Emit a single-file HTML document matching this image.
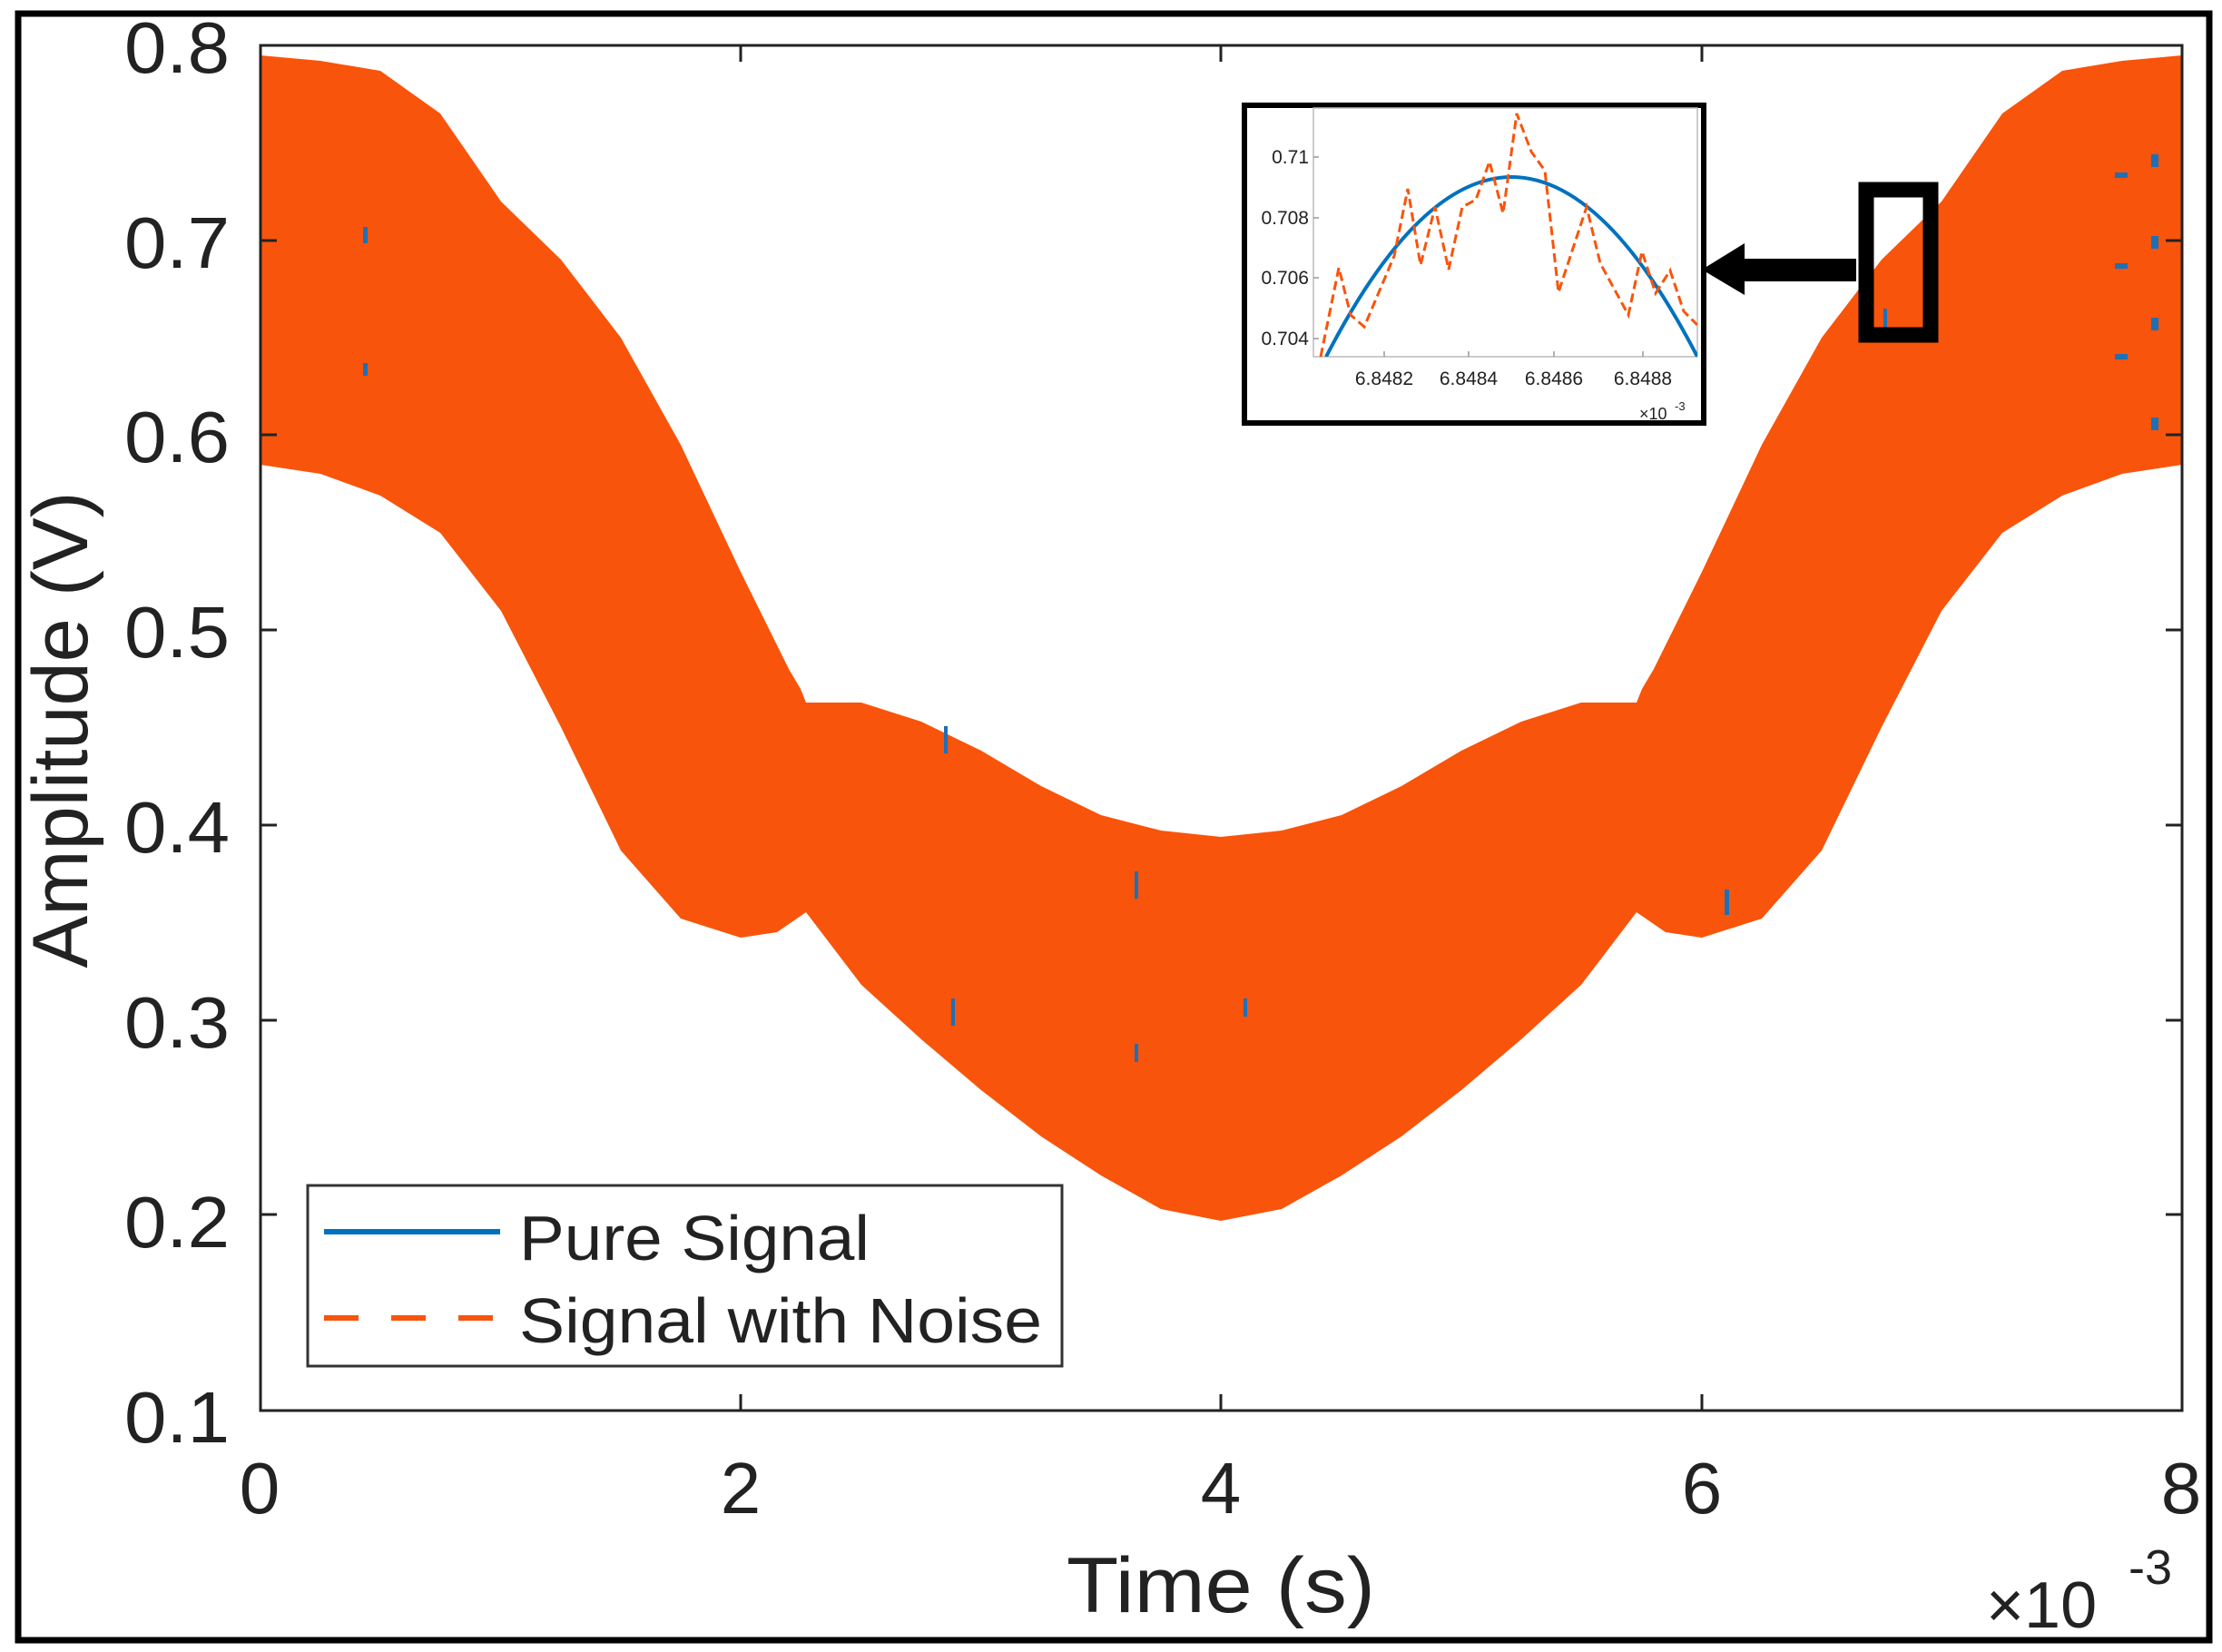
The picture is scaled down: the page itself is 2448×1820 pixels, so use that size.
<!DOCTYPE html>
<html><head><meta charset="utf-8"><style>
html,body{margin:0;padding:0;background:#fff}
svg{display:block}
text{font-family:"Liberation Sans",Arial,sans-serif;fill:#222}
</style></head><body>
<svg width="2448" height="1820" viewBox="0 0 2448 1820" xmlns="http://www.w3.org/2000/svg">
<rect x="0" y="0" width="2448" height="1820" fill="#fff"/>
<rect x="20" y="15" width="2414" height="1792" fill="none" stroke="#000" stroke-width="7"/>
<defs><clipPath id="pc"><rect x="287" y="50" width="2117" height="1504"/></clipPath>
<clipPath id="ic"><rect x="1447" y="119" width="423" height="274"/></clipPath></defs>
<!-- band -->
<g clip-path="url(#pc)">
<polygon fill="#F9540B" points="287,61 353,67 419,78 485,125 552,222 618,286 684,372 750,490 816,630 869,737 882,759 888,774 949,774 1015,795 1081,827 1147,866 1213,898 1279,915 1345,922 1412,915 1478,898 1544,866 1610,827 1676,795 1742,774 1803,774 1809,759 1822,737 1875,630 1941,490 2007,372 2073,286 2139,222 2206,125 2272,78 2338,67 2404,61 2404,512 2338,522 2272,546 2206,587 2139,673 2073,801 2007,937 1941,1012 1875,1033 1835,1027 1803,1005 1742,1085 1676,1145 1610,1201 1544,1252 1478,1295 1412,1332 1345,1345 1279,1332 1213,1295 1147,1252 1081,1201 1015,1145 949,1085 888,1005 856,1027 816,1033 750,1012 684,937 618,801 552,673 485,587 419,546 353,522 287,512"/>
<g fill="#1f6fb5">
<rect x="400" y="250" width="5" height="18"/><rect x="400" y="400" width="5" height="14"/><rect x="1250" y="960" width="4" height="30"/><rect x="1250" y="1150" width="4" height="20"/><rect x="1370" y="1100" width="4" height="20"/><rect x="1900" y="980" width="5" height="28"/><rect x="2330" y="190" width="14" height="6"/><rect x="2330" y="290" width="14" height="6"/><rect x="2330" y="390" width="14" height="6"/><rect x="2370" y="170" width="8" height="14"/><rect x="2370" y="260" width="8" height="14"/><rect x="2370" y="350" width="8" height="14"/><rect x="2370" y="460" width="8" height="14"/><rect x="2075" y="340" width="4" height="30"/><rect x="1048" y="1100" width="4" height="30"/><rect x="1040" y="800" width="4" height="30"/>
</g>
</g>
<!-- axes -->
<rect x="287" y="50" width="2117" height="1504" fill="none" stroke="#222" stroke-width="3"/>
<g stroke="#222" stroke-width="3">
<line x1="287" y1="50" x2="305" y2="50"/><line x1="287" y1="265" x2="305" y2="265"/><line x1="287" y1="479" x2="305" y2="479"/><line x1="287" y1="694" x2="305" y2="694"/><line x1="287" y1="909" x2="305" y2="909"/><line x1="287" y1="1124" x2="305" y2="1124"/><line x1="287" y1="1338" x2="305" y2="1338"/>
<line x1="2404" y1="265" x2="2386" y2="265"/><line x1="2404" y1="479" x2="2386" y2="479"/><line x1="2404" y1="694" x2="2386" y2="694"/><line x1="2404" y1="909" x2="2386" y2="909"/><line x1="2404" y1="1124" x2="2386" y2="1124"/><line x1="2404" y1="1338" x2="2386" y2="1338"/>
<line x1="816" y1="1554" x2="816" y2="1536"/><line x1="1345" y1="1554" x2="1345" y2="1536"/><line x1="1875" y1="1554" x2="1875" y2="1536"/>
<line x1="816" y1="50" x2="816" y2="68"/><line x1="1345" y1="50" x2="1345" y2="68"/><line x1="1875" y1="50" x2="1875" y2="68"/>
</g>
<g font-size="80" text-anchor="end">
<text x="253" y="80" textLength="116" lengthAdjust="spacingAndGlyphs">0.8</text>
<text x="253" y="295" textLength="116" lengthAdjust="spacingAndGlyphs">0.7</text>
<text x="253" y="509" textLength="116" lengthAdjust="spacingAndGlyphs">0.6</text>
<text x="253" y="724" textLength="116" lengthAdjust="spacingAndGlyphs">0.5</text>
<text x="253" y="939" textLength="116" lengthAdjust="spacingAndGlyphs">0.4</text>
<text x="253" y="1154" textLength="116" lengthAdjust="spacingAndGlyphs">0.3</text>
<text x="253" y="1374" textLength="116" lengthAdjust="spacingAndGlyphs">0.2</text>
<text x="253" y="1589" textLength="116" lengthAdjust="spacingAndGlyphs">0.1</text>
</g>
<g font-size="80" text-anchor="middle">
<text x="286" y="1667">0</text><text x="816" y="1667">2</text><text x="1345" y="1667">4</text><text x="1875" y="1667">6</text><text x="2403" y="1667">8</text>
</g>
<text x="1345" y="1776" font-size="86" text-anchor="middle" textLength="340" lengthAdjust="spacingAndGlyphs">Time (s)</text>
<text transform="translate(96,804) rotate(-90)" font-size="86" text-anchor="middle" textLength="525" lengthAdjust="spacingAndGlyphs">Amplitude (V)</text>
<text x="2188" y="1793" font-size="72">×10</text>
<text x="2345" y="1745" font-size="54">-3</text>
<!-- legend -->
<rect x="339" y="1306" width="831" height="199" fill="#fff" stroke="#333" stroke-width="3"/>
<line x1="357" y1="1357" x2="551" y2="1357" stroke="#0072BD" stroke-width="6"/>
<line x1="357" y1="1452" x2="551" y2="1452" stroke="#F9540B" stroke-width="6" stroke-dasharray="38,36"/>
<text x="572" y="1388" font-size="70" fill="#000" textLength="386" lengthAdjust="spacingAndGlyphs">Pure Signal</text>
<text x="572" y="1479" font-size="70" fill="#000" textLength="576" lengthAdjust="spacingAndGlyphs">Signal with Noise</text>
<!-- inset -->
<rect x="1371" y="116" width="506" height="350" fill="#fff" stroke="#000" stroke-width="6"/>
<rect x="1447" y="119" width="423" height="274" fill="none" stroke="#bbb" stroke-width="1.5"/>
<g stroke="#999" stroke-width="1.5">
<line x1="1447" y1="173" x2="1453" y2="173"/><line x1="1447" y1="240" x2="1453" y2="240"/><line x1="1447" y1="306" x2="1453" y2="306"/><line x1="1447" y1="373" x2="1453" y2="373"/>
<line x1="1525" y1="393" x2="1525" y2="387"/><line x1="1618" y1="393" x2="1618" y2="387"/><line x1="1712" y1="393" x2="1712" y2="387"/><line x1="1810" y1="393" x2="1810" y2="387"/>
</g>
<g font-size="21" text-anchor="end" fill="#333">
<text x="1442" y="180">0.71</text><text x="1442" y="247">0.708</text><text x="1442" y="313">0.706</text><text x="1442" y="380">0.704</text>
</g>
<g font-size="21" text-anchor="middle">
<text x="1525" y="424">6.8482</text><text x="1618" y="424">6.8484</text><text x="1712" y="424">6.8486</text><text x="1810" y="424">6.8488</text>
</g>
<text x="1806" y="462" font-size="18" fill="#666">×10</text><text x="1845" y="452" font-size="13" fill="#666">-3</text>
<g clip-path="url(#ic)">
<path d="M1461,393 Q1665,-3 1870,393" fill="none" stroke="#0072BD" stroke-width="4"/>
<polyline fill="none" stroke="#F9540B" stroke-width="3" stroke-dasharray="10,5" points="1455,393 1475,295 1488,347 1503,360 1536,282 1551,208 1565,292 1581,228 1596,297 1611,228 1626,220 1641,178 1656,235 1671,125 1687,167 1702,188 1717,322 1748,228 1763,290 1794,347 1809,277 1824,323 1840,298 1855,343 1870,358"/>
</g>
<!-- arrow -->
<rect x="1919" y="285" width="126" height="25" fill="#000"/>
<polygon points="1875,297 1922,268 1922,325" fill="#000"/>
<rect x="2056" y="209" width="71" height="160" fill="none" stroke="#000" stroke-width="17"/>
</svg>
</body></html>
